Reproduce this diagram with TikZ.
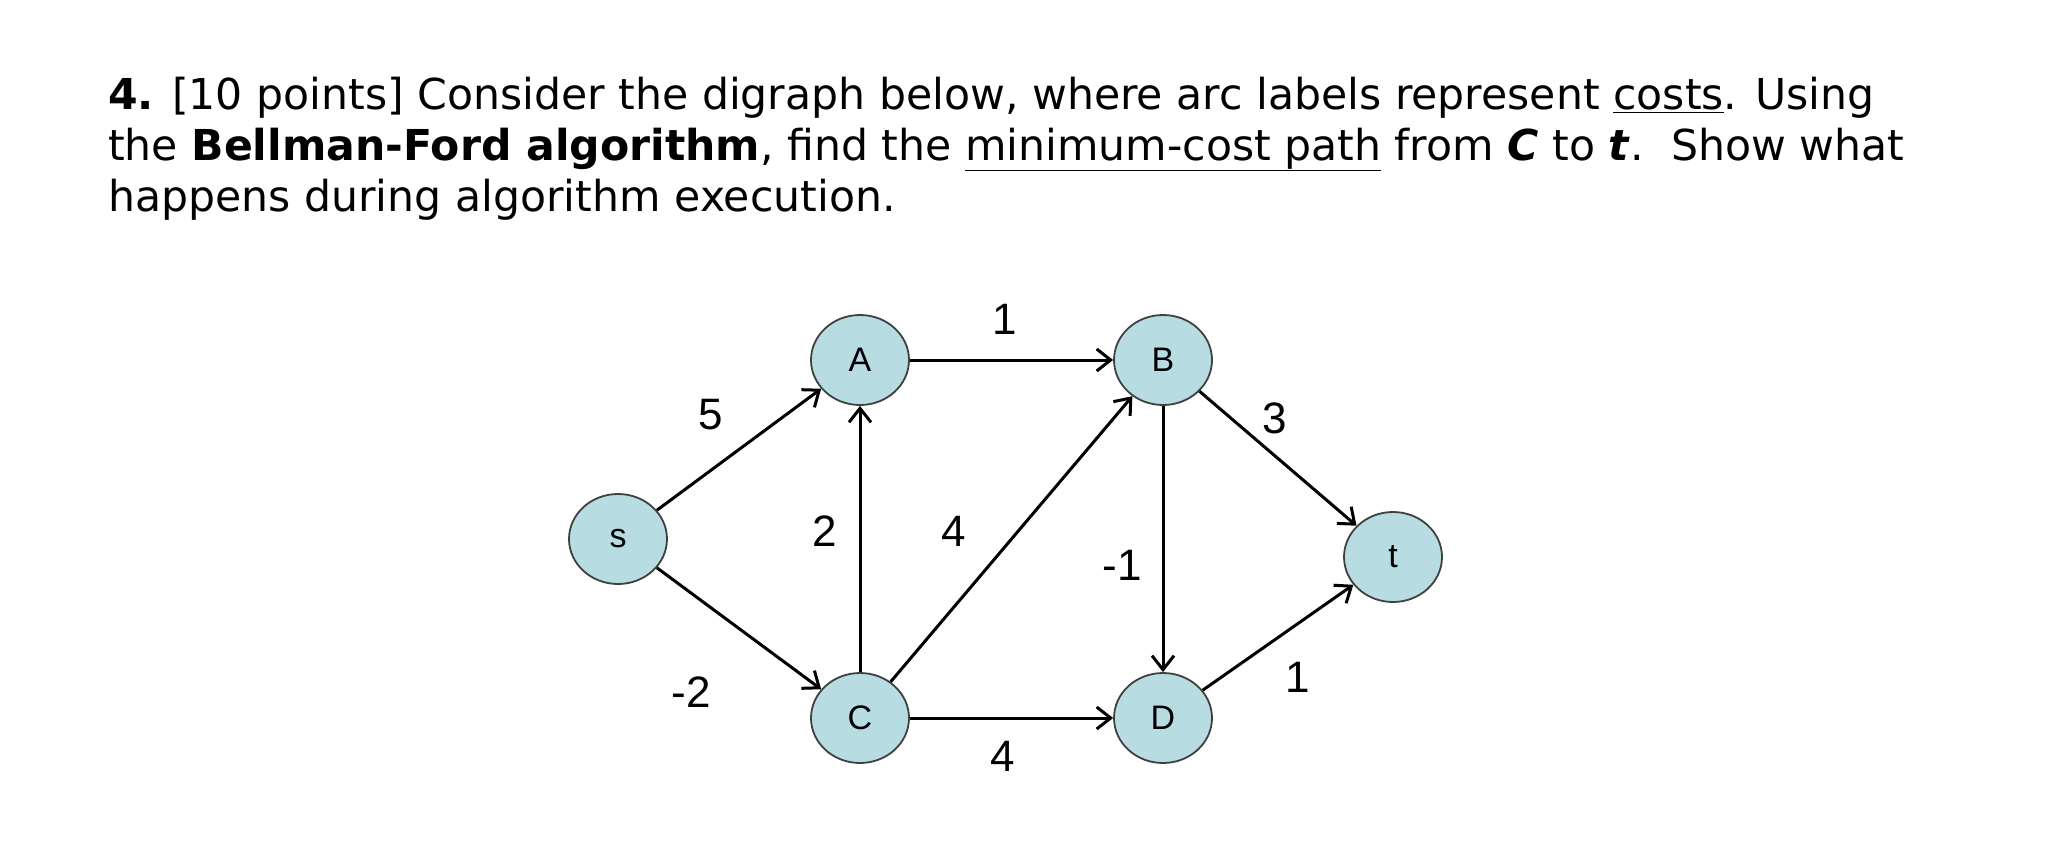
\documentclass[tikz,border=0pt]{standalone}
\usepackage{fontspec}
\setmainfont{DejaVu Sans}
\newfontfamily\arialf{Liberation Sans}
\usetikzlibrary{arrows.meta,shapes.geometric}
\definecolor{nodefill}{HTML}{B7DDE3}
\begin{document}
\begin{tikzpicture}[x=1pt,y=-1pt,
  vert/.style={ellipse,draw=black!75,line width=1.8pt,fill=nodefill,minimum width=98pt,minimum height=90pt,inner sep=0pt,font=\arialf\fontsize{34}{34}\selectfont},
  arc/.style={line width=3pt,-{Straight Barb[length=14pt,width=22pt,line width=3pt]}},
  lab/.style={font=\arialf\fontsize{44}{44}\selectfont},
  ln/.style={anchor=base west,inner sep=0pt,font=\fontsize{42.6}{42.6}\selectfont}]
\useasboundingbox (0,0) rectangle (2061,851);
\node[ln] (l1) at (108,110) {\textbf{4.} [10 points] Consider the digraph below, where arc labels represent \underline{costs}. Using};
\node[ln] (l2) at (108,160) {the \textbf{Bellman-Ford algorithm}, find the \underline{minimum-cost path} from \textbf{\textit{C}} to \textbf{\textit{t}}.\ \ Show what};
\node[ln] (l3) at (108,211) {happens during algorithm execution.};
\node[vert] (s) at (618,539) {s};
\node[vert] (A) at (860,360) {A};
\node[vert] (B) at (1163,360) {B};
\node[vert] (C) at (860,718) {C};
\node[vert] (D) at (1163,718) {D};
\node[vert] (t) at (1393,557) {t};
\draw[arc] (s) -- (A);
\draw[arc] (s) -- (C);
\draw[arc] (A) -- (B);
\draw[arc] (C) -- (A);
\draw[arc] (C) -- (B);
\draw[arc] (C) -- (D);
\draw[arc] (B) -- (D);
\draw[arc] (B) -- (t);
\draw[arc] (D) -- (t);
\node[lab] (w1) at (1005,319) {1};
\node[lab] (w2) at (711,415) {5};
\node[lab] (w3) at (825,531) {2};
\node[lab] (w4) at (954,531) {4};
\node[lab] (w5) at (1122,565) {-1};
\node[lab] (w6) at (1275,418) {3};
\node[lab] (w7) at (691,692) {-2};
\node[lab] (w8) at (1298,677) {1};
\node[lab] (w9) at (1003,756) {4};
\end{tikzpicture}
\end{document}
